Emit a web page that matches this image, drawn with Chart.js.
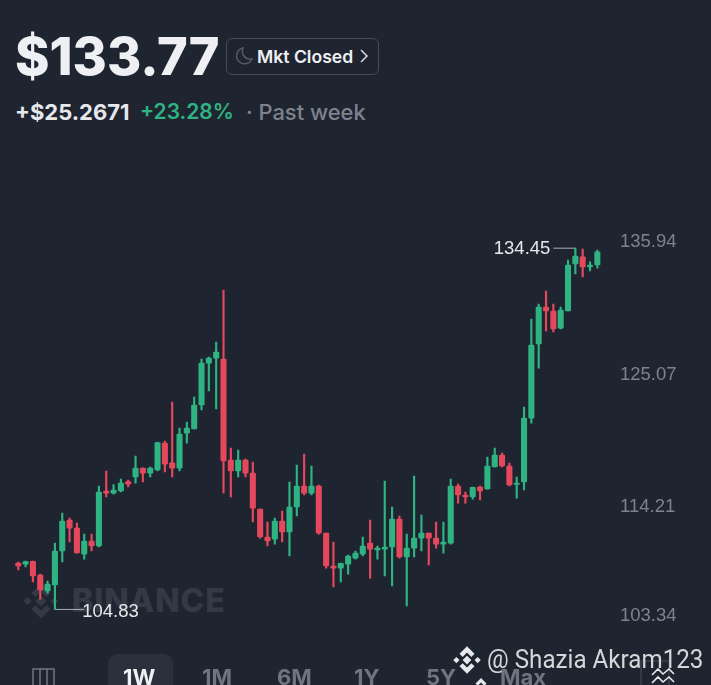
<!DOCTYPE html>
<html>
<head>
<meta charset="utf-8">
<script src="https://cdn.jsdelivr.net/npm/chart.js@4"></script>
<style>
html, body { margin: 0; padding: 0; background: #1f2530; }
#page { position: relative; width: 711px; height: 685px; overflow: hidden; background: #1f2530; font-family: Inter, sans-serif; }
#page div, #page svg { position: absolute; white-space: nowrap; }
canvas { position: absolute; left: 0; top: 0; }
#price { left: 15px; top: 26px; font-size: 52.3px; font-weight: 800; color: #eef0f4; line-height: 60px; }
#status { left: 226px; top: 38px; width: 151px; height: 35px; border: 1px solid #474c57; border-radius: 6px; }
#statusText { left: 257px; top: 46px; font-size: 17.6px; font-weight: 600; color: #eef0f4; line-height: 22px; }
#change { left: 15px; top: 98px; font-size: 22px; font-weight: 700; color: #e6e8ec; line-height: 28px; }
#pct { left: 140px; top: 98px; font-size: 21px; font-weight: 600; color: #2fb382; line-height: 28px; }
#period { left: 246px; top: 98px; font-size: 21.9px; font-weight: 500; color: #7d838d; line-height: 28px; }
#mark { left: 72px; top: 582px; font-size: 32px; font-weight: 800; color: #343a45; letter-spacing: 0.9px; line-height: 38px; }
.tab { top: 663px; font-size: 22px; font-weight: 700; color: #6f757f; line-height: 28px; }
#pill { left: 108px; top: 654px; width: 65px; height: 50px; background: #2b313c; border-radius: 10px; }
#credit { left: 487px; top: 643px; font-family: Roboto, sans-serif; font-size: 26px; color: #d4d6da; line-height: 32px; transform: scaleX(0.93); transform-origin: left center; }
</style>
</head>
<body>
<div id="page">
  <svg width="0" height="0"><defs>
    <symbol id="bnb" viewBox="0 0 24 24">
      <path d="M12 1 L18 7 L15.5 9.5 L12 6 L8.5 9.5 L6 7 Z M12 23 L18 17 L15.5 14.5 L12 18 L8.5 14.5 L6 17 Z M1 12 L3.5 9.5 L6 12 L3.5 14.5 Z M23 12 L20.5 9.5 L18 12 L20.5 14.5 Z M12 8.5 L15.5 12 L12 15.5 L8.5 12 Z"/>
    </symbol>
  </defs></svg>
  <svg style="left:22px;top:582px" width="38" height="38" fill="#343a45"><use href="#bnb"/></svg>
  <div id="mark">BINANCE</div>
  <div id="price">$133.77</div>
  <div id="status"></div>
  <svg style="left:234px;top:46px" width="20" height="20" fill="none" stroke="#555b66" stroke-width="1.5"><path d="M9 2 A8 8 0 1 0 18 13 A8 8 0 0 1 9 2 Z"/></svg>
  <div id="statusText">Mkt Closed</div>
  <svg style="left:359px;top:49px" width="10" height="14" fill="none" stroke="#e6e8ec" stroke-width="1.4"><path d="M2 1 L8 7 L2 13"/></svg>
  <div id="change">+$25.2671</div>
  <div id="pct">+23.28%</div>
  <div id="period">· Past week</div>
  <canvas id="candles" width="711" height="685"></canvas>
  <svg style="left:32px;top:668px" width="24" height="20" fill="none" stroke="#6f757f" stroke-width="1.5"><path d="M1 17 V1 H22 V17 M8 1 V17 M15 1 V17"/></svg>
  <div id="pill"></div>
  <div class="tab" style="left:123px;color:#eef0f4">1W</div>
  <div class="tab" style="left:202px">1M</div>
  <div class="tab" style="left:277px">6M</div>
  <div class="tab" style="left:354px">1Y</div>
  <div class="tab" style="left:426px">5Y</div>
  <div class="tab" style="left:500px">Max</div>
  <svg style="left:640px;top:660px" width="40" height="25" fill="none" stroke="#3a404b" stroke-width="1.5"><path d="M1 25 V1 H29 V25"/></svg>
  <svg style="left:651px;top:668px" width="24" height="18" fill="none" stroke="#e6e8ec" stroke-width="1.6"><path d="M1 7 L7 1 L12 6 L18 1 L23 6 M1 15 L7 9 L12 14 L18 9 L23 14"/></svg>
  <svg style="left:452px;top:645px" width="30" height="30" fill="#e6e8ec"><use href="#bnb"/></svg>
  <svg style="left:470px;top:677px" width="22" height="22" fill="#e6e8ec"><use href="#bnb"/></svg>
  <div id="credit">@ Shazia Akram123</div>
</div>
<script>
var opens = [108.63,108.55,108.78,107.65,106.34,106.83,109.62,112.16,111.50,109.37,
  110.44,110.03,114.54,114.37,114.54,115.32,115.69,116.42,116.01,116.26,
  118.47,116.84,116.42,119.29,119.64,121.59,125.03,125.44,125.36,117.08,
  116.18,117.08,116.01,113.06,110.77,110.60,112.08,111.18,113.23,114.95,
  114.37,114.95,111.09,108.39,108.22,108.55,109.04,109.37,110.27,109.70,
  109.78,109.95,112.24,109.13,109.86,110.68,111.09,110.68,110.19,110.27,
  114.95,114.21,114.05,114.87,114.72,116.51,117.49,116.59,115.07,115.28,
  120.52,126.59,129.63,129.30,127.90,129.30,133.15,133.73,132.91,133.07];
var highs = [108.72,108.80,108.80,107.73,107.16,110.27,112.73,112.32,111.91,111.01,
  111.01,114.95,116.18,115.07,115.52,115.44,117.41,116.44,116.51,118.56,
  118.64,121.84,119.70,120.20,122.25,125.36,125.53,126.76,131.02,118.06,
  117.90,117.16,116.92,113.06,112.00,112.32,112.90,115.28,116.67,117.57,
  116.59,115.03,111.09,110.36,108.63,109.29,109.62,110.77,112.16,110.03,
  115.36,113.23,112.49,111.01,115.77,112.57,111.09,112.00,112.00,115.52,
  115.11,114.46,114.87,114.95,117.33,118.06,117.65,116.83,115.69,121.43,
  128.64,129.87,130.94,129.87,129.63,133.48,134.45,134.38,133.32,134.30];
var lows = [108.06,108.31,107.08,105.68,106.17,104.83,108.72,110.36,109.45,108.96,
  109.62,109.95,114.05,114.29,114.46,114.87,115.19,115.28,115.69,116.18,
  116.10,115.69,116.18,118.47,119.62,121.18,122.74,121.26,114.37,114.05,
  115.69,115.69,112.00,110.68,110.03,110.19,110.36,109.21,112.49,114.21,
  114.21,111.01,108.22,106.67,107.08,107.73,108.96,109.21,107.40,108.96,
  107.57,106.75,109.04,105.11,109.13,109.62,108.47,109.86,109.45,110.19,
  113.55,113.55,113.88,113.80,114.70,116.51,116.51,114.95,113.96,114.62,
  120.11,124.62,127.66,127.58,127.82,129.30,132.33,132.09,132.58,132.82];
var closes = [108.39,108.76,107.57,106.42,106.91,109.62,112.08,111.50,109.47,110.44,
  110.03,114.46,114.37,114.62,115.19,115.11,116.42,116.01,116.42,118.51,
  116.75,116.42,119.21,119.70,121.59,125.03,125.44,125.94,117.00,116.18,
  117.08,116.01,113.14,110.77,110.44,112.08,111.18,113.23,114.95,114.37,
  114.95,111.09,108.39,108.22,108.61,109.21,109.45,110.03,109.78,109.86,
  109.95,112.24,109.13,109.86,110.68,111.09,110.68,110.19,110.36,114.95,
  114.21,114.05,114.85,114.54,116.59,117.49,116.59,115.03,115.19,120.52,
  126.51,129.63,129.30,127.82,129.38,133.07,133.81,132.91,133.07,134.14];
var tickValues = [135.94, 125.07, 114.21, 103.34];
var highLabel = '134.45', lowLabel = '104.83';
var highIndex = 76, lowIndex = 5;

var GREEN = '#2fb382', RED = '#e5485d', LEADER = '#aeb2b8';

var labels = opens.map(function (v, i) { return i; });
var colors = opens.map(function (v, i) { return closes[i] >= opens[i] ? GREEN : RED; });
var highLeader = labels.map(function (i) { return i >= 73 && i <= highIndex ? highs[highIndex] : null; });
var lowLeader = labels.map(function (i) { return i >= lowIndex && i <= 9 ? lows[lowIndex] : null; });

// text at the two extreme candles
var extremes = {
  id: 'extremes',
  afterDatasetsDraw: function (chart) {
    var ctx = chart.ctx, x = chart.scales.x, y = chart.scales.y;
    ctx.save();
    ctx.font = '18.5px "Liberation Sans"';
    ctx.fillStyle = '#e6e8ec';
    ctx.textBaseline = 'middle';
    ctx.textAlign = 'right';
    ctx.fillText(highLabel, x.getPixelForValue(73) - 3, y.getPixelForValue(highs[highIndex]) + 1);
    ctx.textAlign = 'left';
    ctx.fillText(lowLabel, x.getPixelForValue(9) - 2, y.getPixelForValue(lows[lowIndex]) + 2);
    ctx.restore();
  }
};

new Chart(document.getElementById('candles').getContext('2d'), {
  data: {
    labels: labels,
    datasets: [
      { type: 'line', data: highLeader, borderColor: LEADER, borderWidth: 1, pointRadius: 0, order: 3 },
      { type: 'line', data: lowLeader, borderColor: LEADER, borderWidth: 1, pointRadius: 0, order: 3 },
      {
        type: 'bar',
        data: labels.map(function (i) { return [lows[i], highs[i]]; }),
        backgroundColor: colors,
        barThickness: 1.5,
        grouped: false,
        order: 2
      },
      {
        type: 'bar',
        data: labels.map(function (i) { return [Math.min(opens[i], closes[i]), Math.max(opens[i], closes[i])]; }),
        backgroundColor: colors,
        barThickness: 5.4,
        borderRadius: 1,
        borderSkipped: false,
        grouped: false,
        order: 1
      }
    ]
  },
  plugins: [extremes],
  options: {
    responsive: false,
    animation: false,
    devicePixelRatio: 1,
    layout: { padding: { left: 14.6, top: 230, bottom: 57.4, right: 0 } },
    plugins: { legend: { display: false }, tooltip: { enabled: false } },
    scales: {
      x: { type: 'category', offset: true, display: false },
      y: {
        position: 'right',
        min: 103.34,
        max: 135.94,
        grid: { display: false, drawTicks: false },
        border: { display: false },
        afterBuildTicks: function (scale) {
          scale.ticks = tickValues.map(function (v) { return { value: v }; });
        },
        afterFit: function (scale) { scale.width = 110; },
        ticks: {
          autoSkip: false,
          crossAlign: 'near',
          padding: 19,
          color: '#7d838d',
          font: { family: '"Liberation Sans"', size: 18.5, lineHeight: '24px' },
          // labels sit under their level, the lowest one above it
          callback: function (v, i) {
            var t = tickValues[i].toFixed(2);
            return i === tickValues.length - 1 ? [t, ''] : ['', t];
          }
        }
      }
    }
  }
});
</script>
</body>
</html>
